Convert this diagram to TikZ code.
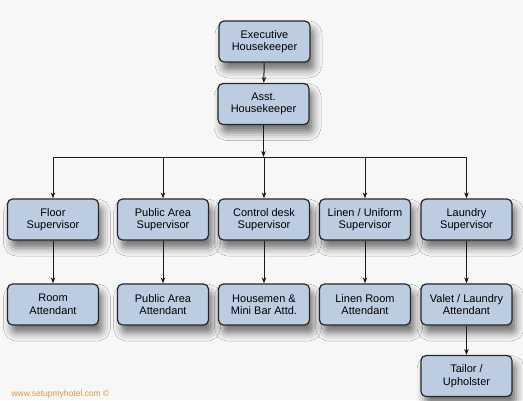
\documentclass[tikz,border=0pt]{standalone}
\usepackage{fontspec}
\setmainfont{Liberation Sans}
\usepackage{tikz}
\usetikzlibrary{arrows.meta,positioning,shadows.blur}
\definecolor{boxblue}{RGB}{188,205,226}
\definecolor{markorange}{RGB}{222,150,60}
\tikzset{every node/.append style={execute at begin node={\hyphenpenalty=10000\exhyphenpenalty=10000}}}
\begin{document}
\begin{tikzpicture}[x=1pt,y=-1pt,
  post/.style={draw=black!85,line width=1.2pt,rounded corners=5pt,fill=boxblue,minimum width=91pt,minimum height=41pt,inner sep=1pt,align=center,font=\fontsize{11}{12.5}\selectfont,blur shadow={shadow xshift=4pt,shadow yshift=-8pt,shadow blur radius=8pt,shadow opacity=55}},
  link/.style={draw=black!90,line width=1pt,-{Stealth[length=6pt,width=4.5pt]}}]
\fill[gray!6] (0,0) rectangle (523,400);
\useasboundingbox (0,0) rectangle (523,400);
\node[post] (exec) at (264.5,41.5) {Executive\\Housekeeper};
\node[post] (asst) at (263.5,104) {Asst.\\Housekeeper};
\node[post] (floor) at (53,219.5) {Floor\\Supervisor};
\node[post] (parea) at (163,219.5) {Public Area\\Supervisor};
\node[post] (cdesk) at (264,219.5) {Control desk\\Supervisor};
\node[post] (linen) at (365,219.5) {Linen / Uniform\\Supervisor};
\node[post] (laundry) at (466.5,219.5) {Laundry\\Supervisor};
\node[post] (room) at (53,304.5) {Room\\Attendant};
\node[post] (pattd) at (163,304.5) {Public Area\\Attendant};
\node[post] (minibar) at (264,304.5) {Housemen \&\\Mini Bar Attd.};
\node[post] (lroom) at (365,304.5) {Linen Room\\Attendant};
\node[post] (valet) at (466.5,304.5) {Valet / Laundry\\Attendant};
\node[post] (tailor) at (466.5,376) {Tailor /\\Upholster};
\coordinate (bus) at (263.5,157);
\draw[line width=1pt,draw=black!90] (floor.north |- bus) -- (laundry.north |- bus);
\draw[link] (exec) -- (asst);
\draw[link] (asst) -- (bus);
\foreach \s in {floor,parea,cdesk,linen,laundry} \draw[link] (\s.north |- bus) -- (\s);
\foreach \a/\b in {floor/room,parea/pattd,cdesk/minibar,linen/lroom,laundry/valet,valet/tailor} \draw[link] (\a) -- (\b);
\node[markorange,font=\fontsize{8.5}{9}\selectfont,anchor=south west] (mark) at (8,401.5) {www.setupmyhotel.com ©};
\end{tikzpicture}
\end{document}
